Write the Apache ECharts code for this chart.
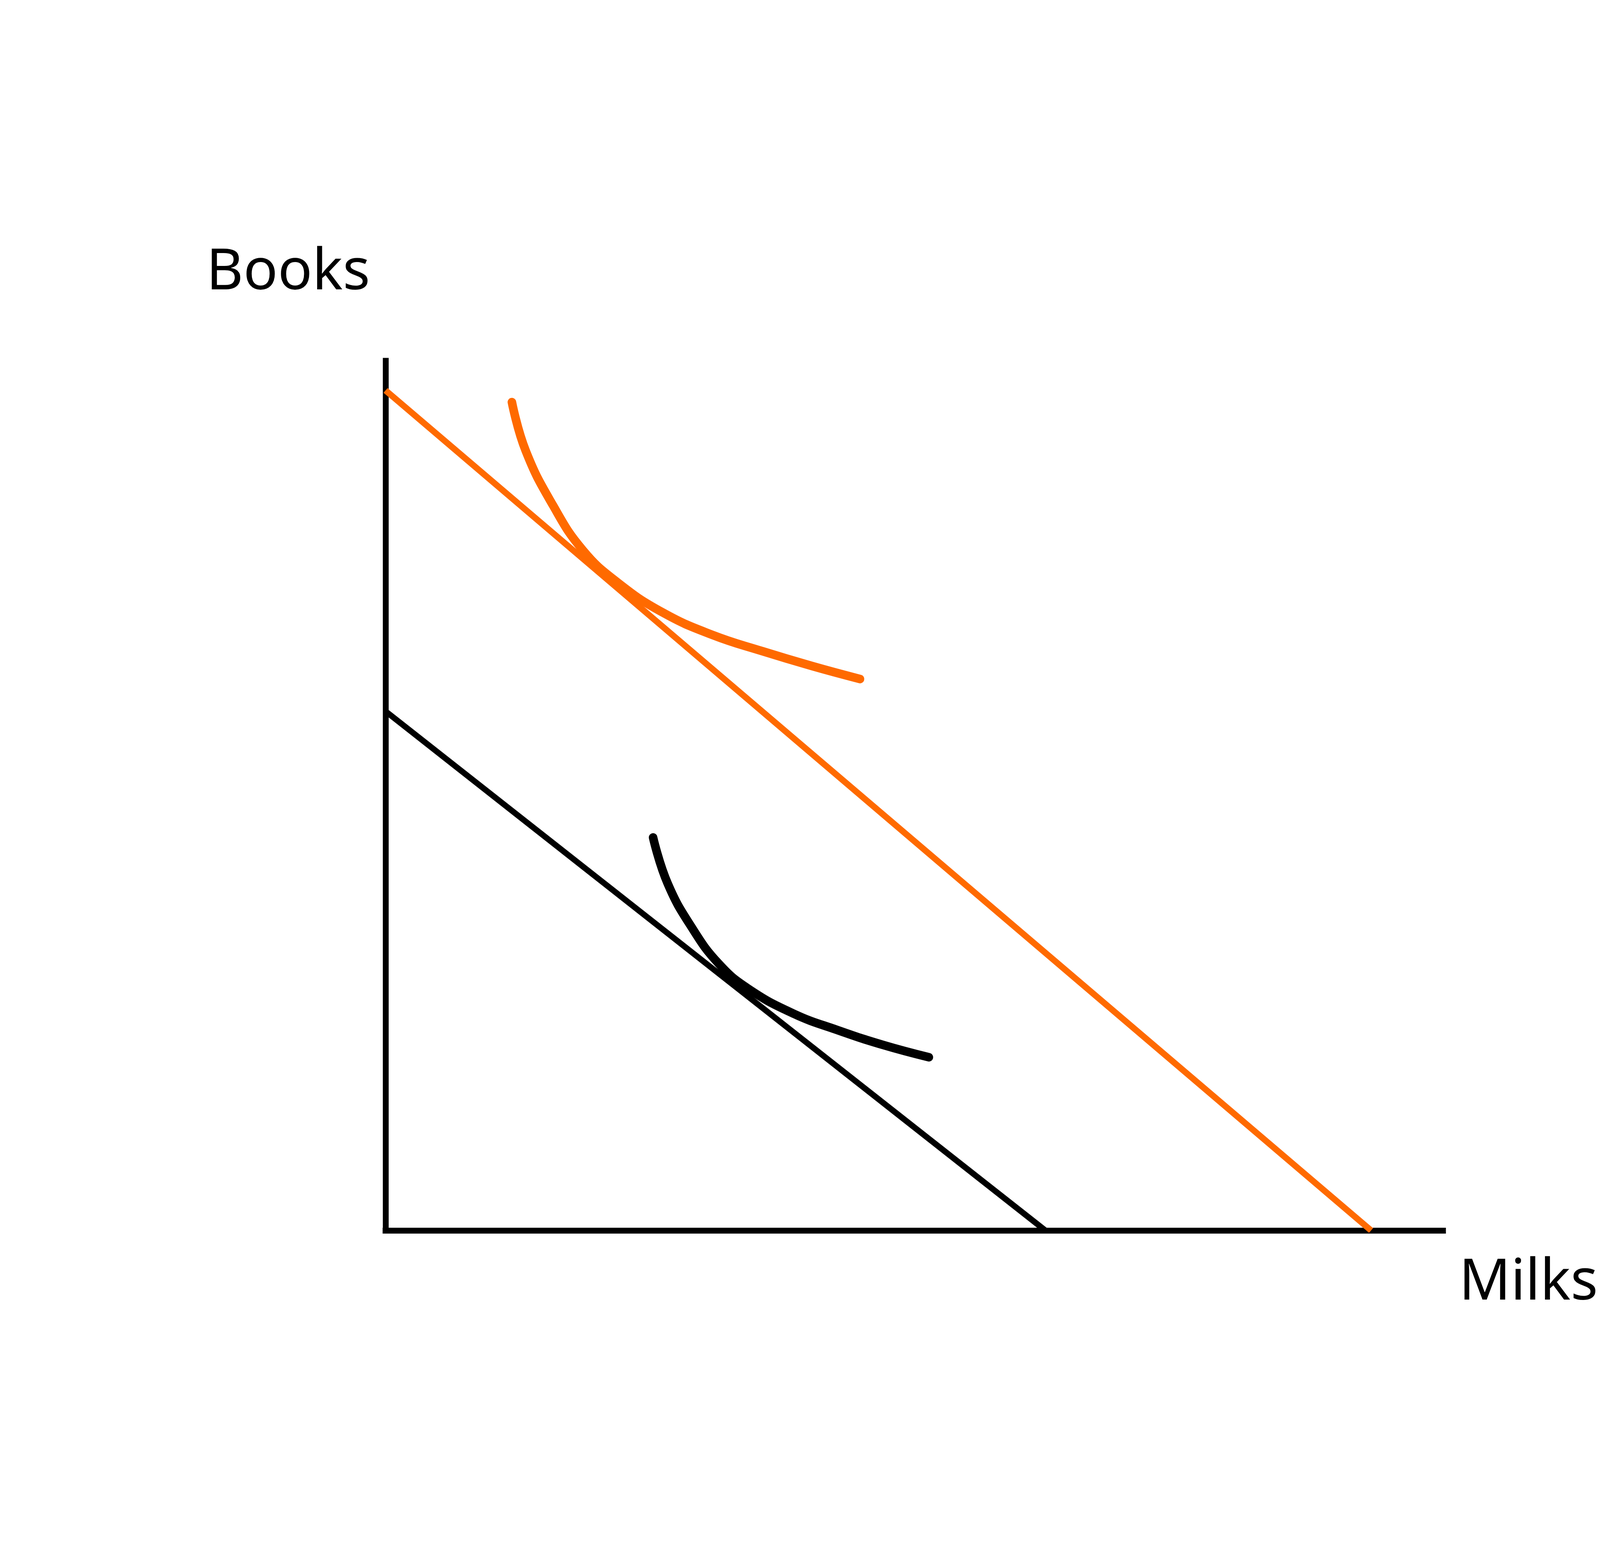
<!DOCTYPE html>
<html>
<head>
<meta charset="utf-8">
<script src="https://cdn.jsdelivr.net/npm/echarts@6/dist/echarts.min.js"></script>
<style>
html,body{margin:0;padding:0;background:#fff;}
#chart{width:5000px;height:4000px;}
</style>
</head>
<body>
<div id="chart"></div>
<script>
// Axis titles
var xAxisTitle = 'Milkshakes';
var yAxisTitle = 'Books';

// Budget lines (x = milkshakes, y = books)
var budgetHigh = [[0, 96.6], [93.2, 0]];
var budgetLow = [[0, 59.7], [62.4, 0]];

// Indifference curves
var curveHighX = [11.95, 13.25, 15.84, 18.67, 21.97, 26.21, 30.92, 35.63, 40.34, 44.87];
var curveHighY = [95.25, 89.67, 83.37, 78.21, 74.49, 71.06, 68.48, 66.61, 64.90, 63.41];
var curveLowX = [25.30, 26.68, 29.01, 31.55, 34.31, 38.55, 42.79, 47.03, 51.38];
var curveLowY = [45.19, 39.90, 34.75, 30.62, 27.79, 24.95, 23.02, 21.34, 19.92];

function zip(xs, ys) { return xs.map(function (x, i) { return [x, ys[i]]; }); }

var ORANGE = '#FF6A00';
var BLACK = '#000000';
var FONT = '"Noto Sans", Lato, sans-serif';

var chart = echarts.init(document.getElementById('chart'), null, {renderer: 'canvas'});
var axisCommon = {
  type: 'value', min: 0, max: 100,
  axisLine: {show: true, lineStyle: {color: BLACK, width: 15, cap: 'square'}},
  axisTick: {show: false}, axisLabel: {show: false}, splitLine: {show: false}
};
chart.setOption({
  backgroundColor: '#ffffff',
  animation: false,
  grid: {left: 987, top: 924, width: 2707, height: 2227},
  xAxis: Object.assign({}, axisCommon),
  yAxis: Object.assign({}, axisCommon),
  graphic: [
    {type: 'text', left: 528, top: 626, style: {text: yAxisTitle, font: '146px ' + FONT, fill: BLACK}},
    {type: 'text', left: 3735, top: 3213, style: {text: xAxisTitle, font: '146px ' + FONT, fill: BLACK}}
  ],
  series: [
    {type: 'line', data: budgetLow, showSymbol: false, lineStyle: {color: BLACK, width: 15}, z: 2},
    {type: 'line', data: budgetHigh, showSymbol: false, lineStyle: {color: ORANGE, width: 16}, z: 2},
    {type: 'line', data: zip(curveLowX, curveLowY), smooth: 0.45, showSymbol: false, lineStyle: {color: BLACK, width: 22, cap: 'round'}, z: 3},
    {type: 'line', data: zip(curveHighX, curveHighY), smooth: 0.45, showSymbol: false, lineStyle: {color: ORANGE, width: 22, cap: 'round'}, z: 3}
  ]
});
</script>
</body>
</html>
